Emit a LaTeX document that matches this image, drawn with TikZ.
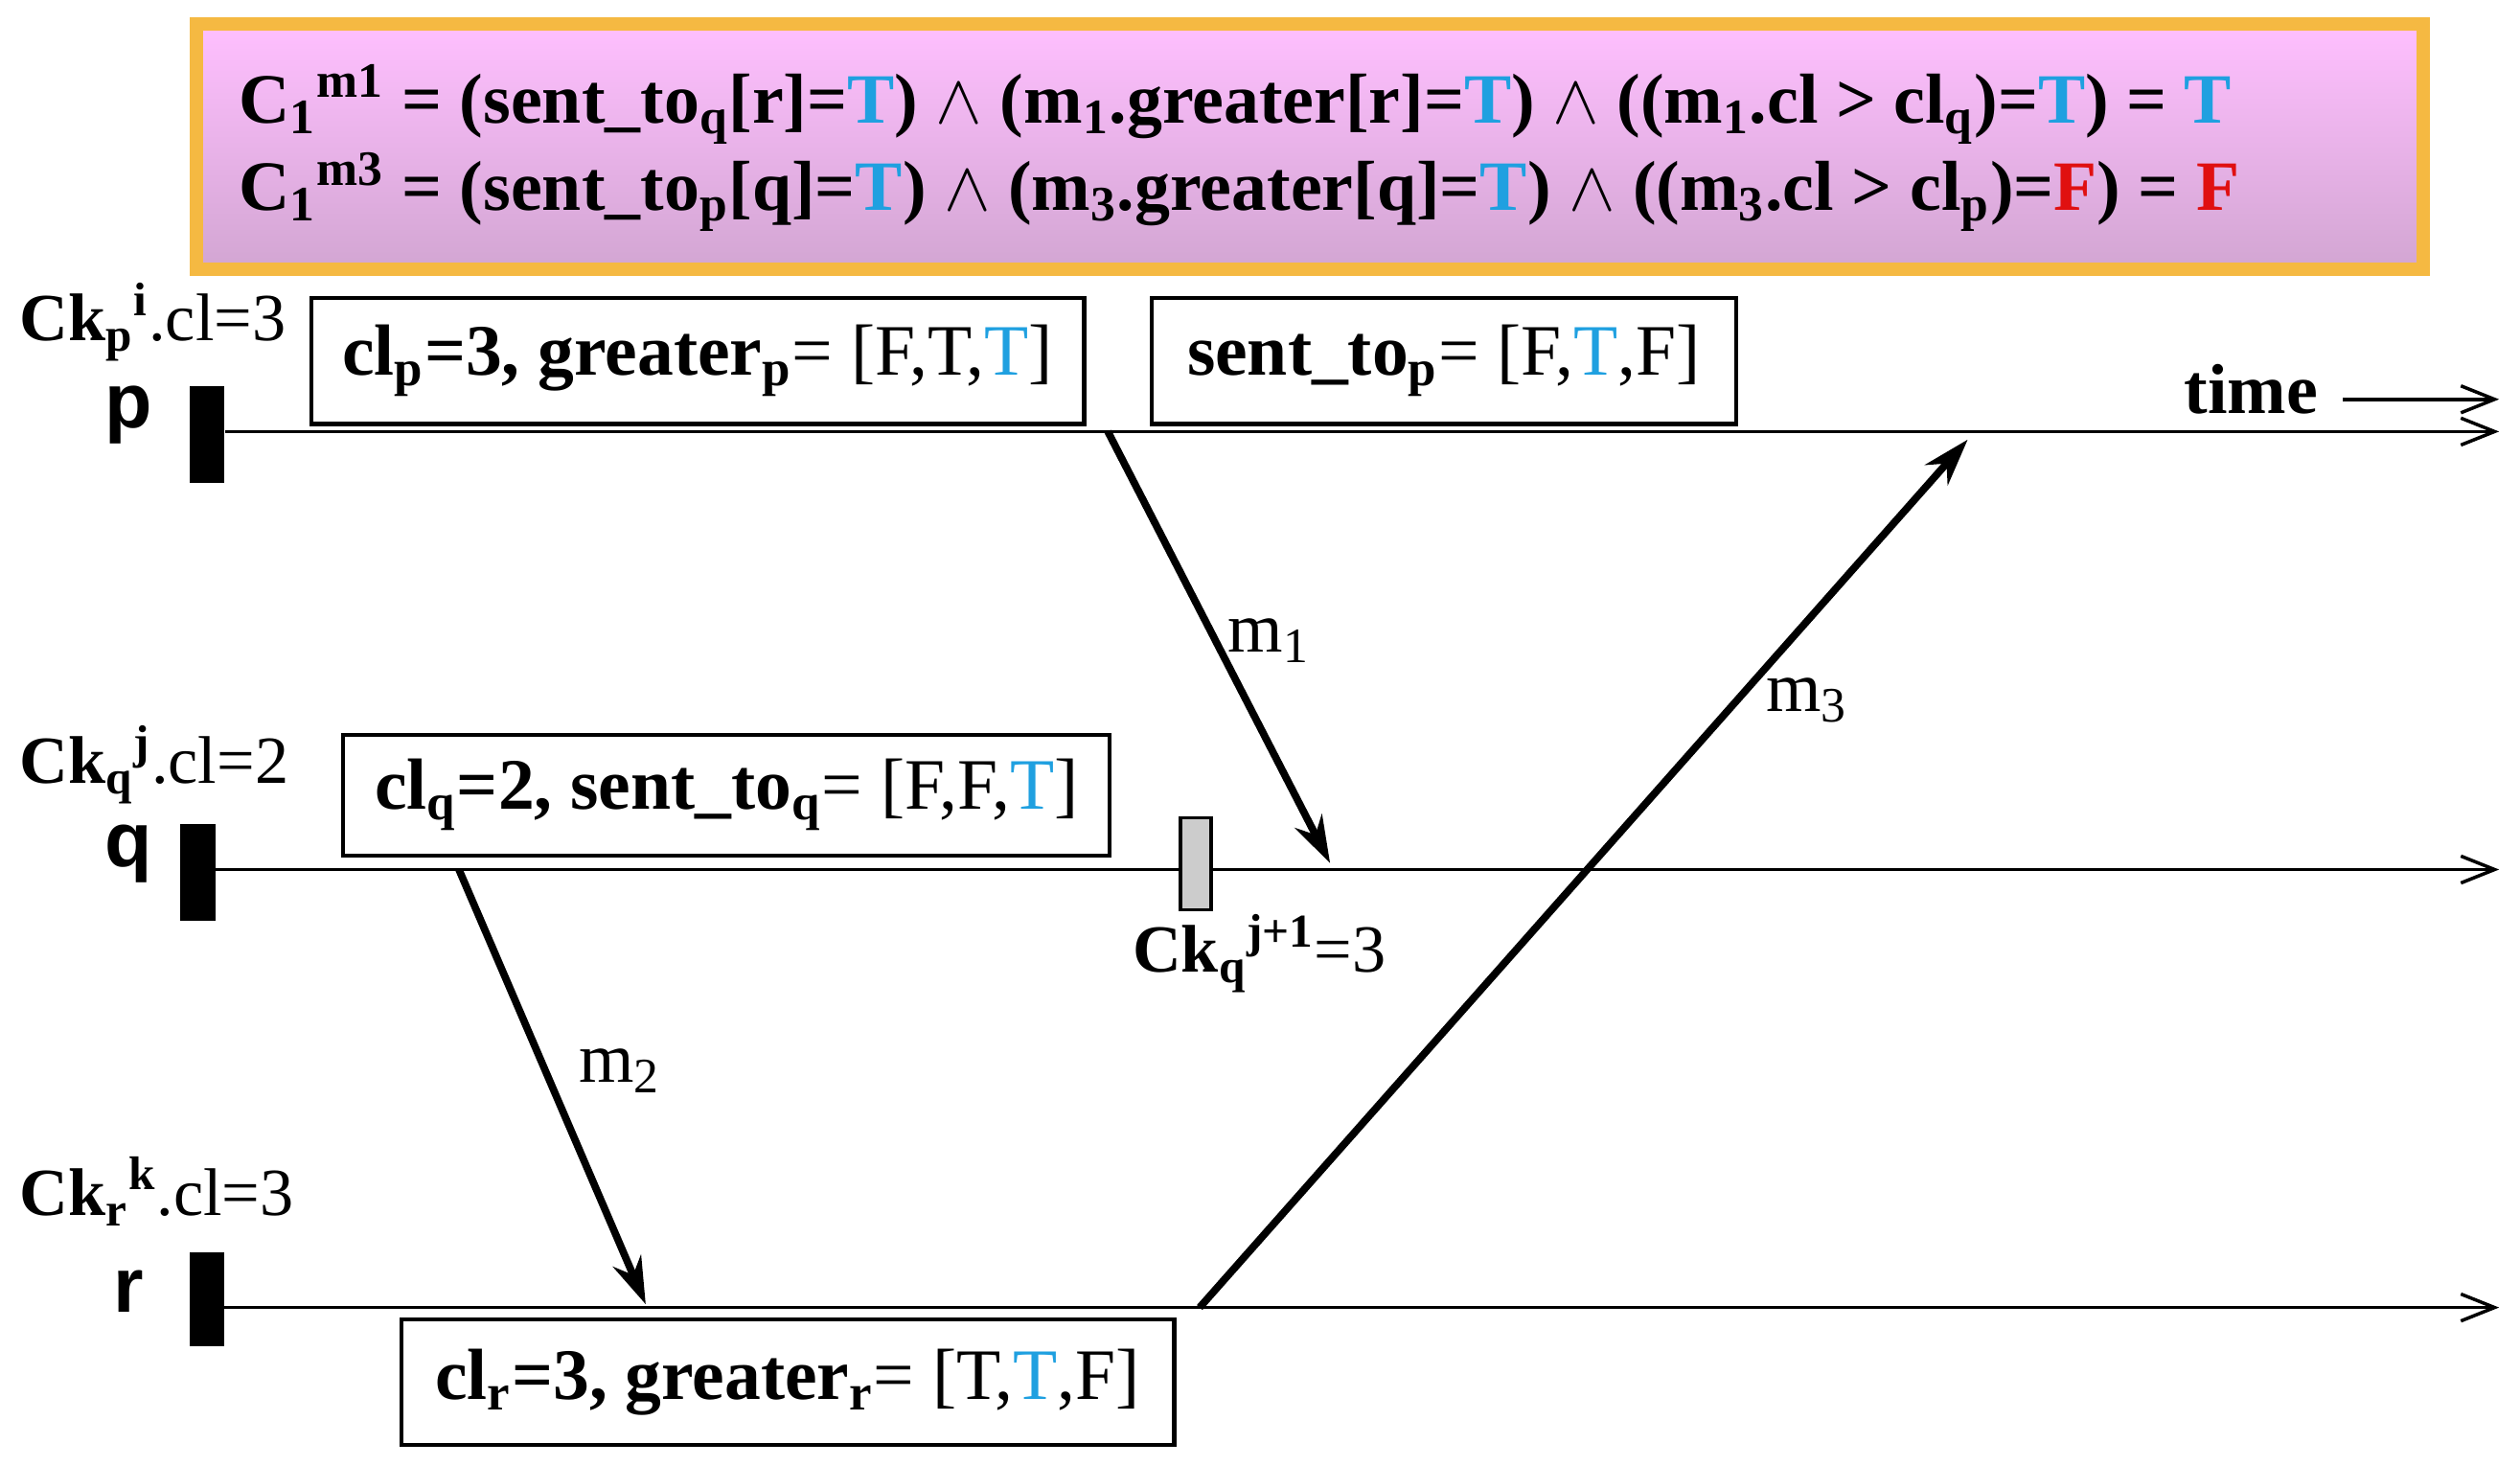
\documentclass[tikz,border=0pt]{standalone}
\usepackage{fontspec}
\setmainfont{Liberation Serif}
\setsansfont{Liberation Sans}
\usetikzlibrary{arrows.meta}
\definecolor{tb}{HTML}{1FA0E0}
\definecolor{tr}{HTML}{E01010}
\definecolor{bord}{HTML}{F5B942}
\newcommand{\sbs}[1]{\textsubscript{#1}}
\newcommand{\sps}[1]{\textsuperscript{#1}}
\newcommand{\B}[1]{\textcolor{tb}{#1}}
\newcommand{\R}[1]{\textcolor{tr}{#1}}
\tikzset{
 box/.style={draw,line width=1.2pt,anchor=north west,inner xsep=4pt,font=\fontsize{21.5}{24}\selectfont,align=left},
 tl/.style={line width=1pt,-{Straight Barb[length=10pt,width=8pt]}},
 msg/.style={line width=2.2pt,-{Stealth[length=14pt,width=9pt]}},
 bar/.style={fill=black,draw=none},
 lbl/.style={font=\fontsize{21}{24}\selectfont},
 ck/.style={font=\fontsize{20}{22}\selectfont\bfseries,anchor=west,inner sep=0pt},
 pq/.style={font=\sffamily\bfseries\fontsize{23}{25}\selectfont}
}
\begin{document}
\begin{tikzpicture}[x=0.0168cm,y=-0.0168cm]
\useasboundingbox (0,0) rectangle (1565,910);
\shade[top color=magenta!25,bottom color=violet!35] (122,15) rectangle (1505,167);
\draw[bord,line width=4pt] (122,15) rectangle (1505,167);
\node[anchor=west,inner sep=0pt,font=\fontsize{21}{25}\selectfont\bfseries,align=left] (form) at (148,92)
{C\sbs{1}\sps{m1} = (sent\_to\sbs{q}[r]=\B{T}) $\wedge$ (m\sbs{1}.greater[r]=\B{T}) $\wedge$ ((m\sbs{1}.cl > cl\sbs{q})=\B{T}) = \B{T}\\[1pt]
C\sbs{1}\sps{m3} = (sent\_to\sbs{p}[q]=\B{T}) $\wedge$ (m\sbs{3}.greater[q]=\B{T}) $\wedge$ ((m\sbs{3}.cl > cl\sbs{p})=\R{F}) = \R{F}};

\coordinate (pS) at (140,268); \coordinate (pE) at (1552,268);
\coordinate (qS) at (133,540); \coordinate (qE) at (1552,540);
\coordinate (rS) at (138,812); \coordinate (rE) at (1552,812);
\draw[tl] (pS) -- (pE);
\draw[tl] (qS) -- (qE);
\draw[tl] (rS) -- (rE);
\coordinate (t1) at (1455,248); \coordinate (t2) at (1552,248);
\draw[tl] (t1) -- (t2);
\node[font=\fontsize{21}{24}\selectfont\bfseries] (time) at (1398,242) {time};

\fill[bar] (118,240) rectangle (139,300);
\fill[bar] (112,512) rectangle (134,572);
\fill[bar] (118,778) rectangle (139,836);
\node[pq] (p) at (80,258) {p};
\node[pq] (q) at (80,530) {q};
\node[pq] (r) at (80,802) {r};
\node[ck] (ckp) at (12,200) {Ck\sbs{p}\sps{i}\textmd{.cl=3}};
\node[ck] (ckq) at (12,475) {Ck\sbs{q}\sps{j}\textmd{.cl=2}};
\node[ck] (ckr) at (12,740) {Ck\sbs{r}\sps{k}\textmd{.cl=3}};

\node[box,minimum width=480*0.0168cm,minimum height=78*0.0168cm] (b1) at (192,184) {\textbf{cl\sbs{p}=3, greater\sbs{p}}= [F,T,\B{T}]};
\node[box,minimum width=363*0.0168cm,minimum height=78*0.0168cm] (b2) at (714,184) {\textbf{sent\_to\sbs{p}}= [F,\B{T},F]};
\node[box,minimum width=476*0.0168cm,minimum height=75*0.0168cm] (b3) at (212,455) {\textbf{cl\sbs{q}=2, sent\_to\sbs{q}}= [F,F,\B{T}]};
\node[box,minimum width=480*0.0168cm,minimum height=78*0.0168cm] (b4) at (248,818) {\textbf{cl\sbs{r}=3, greater\sbs{r}}= [T,\B{T},F]};

\draw[fill=gray!40,line width=1pt] (733,508) rectangle (752,565);
\node[ck] (ckq2) at (703,592) {Ck\sbs{q}\sps{j+1}\textmd{=3}};

\coordinate (m1a) at (688,268); \coordinate (m1b) at (826,536);
\coordinate (m2a) at (285,540); \coordinate (m2b) at (401,810);
\coordinate (m3a) at (745,812); \coordinate (m3b) at (1222,273);
\draw[msg] (m1a) -- (m1b);
\draw[msg] (m2a) -- (m2b);
\draw[msg] (m3a) -- (m3b);
\node[lbl] (l1) at (788,398) {m\sbs{1}};
\node[lbl] (l2) at (385,665) {m\sbs{2}};
\node[lbl] (l3) at (1122,435) {m\sbs{3}};
\end{tikzpicture}
\end{document}
